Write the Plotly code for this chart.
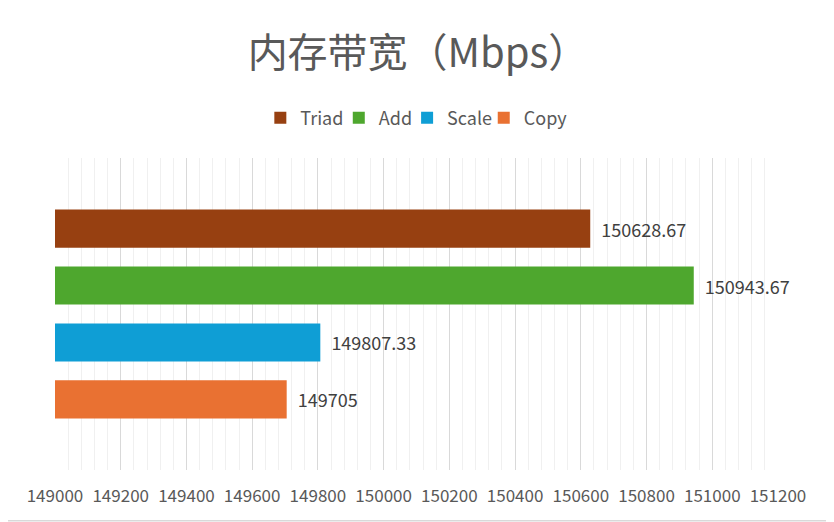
import plotly.graph_objects as go

# series drawn bottom -> top
series = ["Copy", "Scale", "Add", "Triad"]
values = [149705, 149807.33, 150943.67, 150628.67]
labels = ["149705", "149807.33", "150943.67", "150628.67"]
colors = ["#E97132", "#0F9ED5", "#4EA72E", "#974011"]
category = ["内存带宽"]
tick_vals = list(range(149000, 151201, 200))

# one legend box per series so the entries can sit as tight as in the original
legend_ids = ['legend4', 'legend3', 'legend2', 'legend']
legend_x = [0.593, 0.487, 0.3925, 0.284]

fig = go.Figure()
for name, v, lab, col, lg in zip(series, values, labels, colors, legend_ids):
	fig.add_trace(go.Bar(
		y = category,
		x = [v],
		name = name,
		orientation = 'h',
		marker = dict(color = col, line = dict(width = 0)),
		text = [lab],
		texttemplate = '  %{text}',
		textposition = 'outside',
		textfont = dict(size = 18, color = '#404040'),
		cliponaxis = False,
		legend = lg
	))

legend_style = dict(orientation = 'h', xanchor = 'left', y = 1.128, yanchor = 'middle',
	font = dict(size = 18, color = '#595959'), itemwidth = 30, bgcolor = 'rgba(0,0,0,0)')

# page has an 8px body margin, so the plot box is shifted up/left by 8px
fig.update_layout(
	width = 834, height = 522,
	paper_bgcolor = 'white', plot_bgcolor = 'white',
	font = dict(family = 'Noto Sans CJK SC, Noto Sans, sans-serif', color = '#595959'),
	title = dict(text = '内存带宽（Mbps）', x = 0.4916, xanchor = 'center', y = 0.914, yanchor = 'middle',
		font = dict(size = 40, color = '#595959')),
	barmode = 'group',
	bargap = 0.27,
	bargroupgap = 0.33,
	margin = dict(l = 47, r = 64, t = 150, b = 60, autoexpand = False),
	showlegend = True,
	xaxis = dict(range = [149000, 151200], tickmode = 'array', tickvals = tick_vals,
		ticktext = [str(t) for t in tick_vals], showgrid = True, gridcolor = '#d9d9d9', gridwidth = 1,
		minor = dict(dtick = 40, showgrid = True, gridcolor = '#f0f0f0', gridwidth = 1),
		zeroline = False, showline = False, ticks = '', tickfont = dict(size = 17, color = '#595959'),
		ticklabelstandoff = 14, automargin = False),
	yaxis = dict(showticklabels = False, showgrid = False, zeroline = False, showline = False,
		automargin = False),
	shapes = [dict(type = 'rect', xref = 'paper', yref = 'paper', x0 = -0.2, x1 = 1.074,
		y0 = -0.163, y1 = 1.6, line = dict(color = '#d9d9d9', width = 1.5), layer = 'below')]
)
for lg, lx in zip(legend_ids, legend_x):
	fig.update_layout({lg : dict(legend_style, x = lx)})

fig.write_html("out.html")
